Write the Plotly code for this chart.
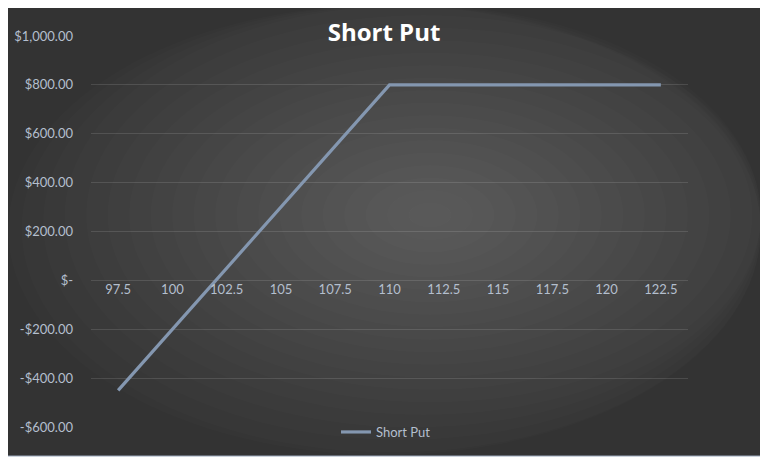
import plotly.graph_objects as go

# ---- data ----
strikes = ["97.5", "100", "102.5", "105", "107.5", "110", "112.5", "115", "117.5", "120", "122.5"]
payoff = [-450, -200, 50, 300, 550, 800, 800, 800, 800, 800, 800]
y_tick_values = [-600, -400, -200, 0, 200, 400, 600, 800, 1000]
y_tick_labels = ["-$600.00", "-$400.00", "-$200.00", "$-", "$200.00", "$400.00", "$600.00", "$800.00", "$1,000.00"]

W, H = 768, 460
OFF = 8  # page body margin
# plot area in screenshot pixels: x 91..688, y 36..427
ML = 91 - OFF
MT = 36 - OFF
MR = W - (688 - OFF)
MB = H - (427 - OFF)
pw, ph = W - ML - MR, H - MT - MB

def px_x(p):  # screenshot px -> paper
    return (p - OFF - ML) / pw

def px_y(p):
    return (H - MB - (p - OFF)) / ph

shapes = [
    dict(type="rect", xref="paper", yref="paper", layer="below",
         x0=px_x(7), x1=px_x(762), y0=px_y(456), y1=px_y(4),
         fillcolor="#333333", line=dict(color="#9aa7bb", width=1)),
]
# soft radial lightening toward the centre
cx, cy = 430, 215
n = 20
for i in range(n):
    f = 1 - i / n
    rx, ry = 430 * f, 250 * f
    x0 = max(8, cx - rx); x1 = min(761, cx + rx)
    y0 = max(5, cy - ry); y1 = min(455, cy + ry)
    shapes.append(dict(type="circle", xref="paper", yref="paper", layer="below",
                       x0=px_x(x0), x1=px_x(x1), y0=px_y(y1), y1=px_y(y0),
                       fillcolor="rgba(255,255,255,0.01)", line=dict(width=0)))

fig = go.Figure()
fig.add_trace(go.Scatter(
    x=strikes, y=payoff, mode="lines", name="Short Put",
    line=dict(color="#8497B0", width=3.2),
))

fig.update_layout(
    width=W, height=H, autosize=False,
    margin=dict(l=ML, r=MR, t=MT, b=MB, autoexpand=False),
    paper_bgcolor="white",
    plot_bgcolor="rgba(0,0,0,0)",
    shapes=shapes,
    font=dict(family="Lato, Carlito, Open Sans, sans-serif", color="#B4BFCE", size=13),
    title=dict(text="<b>Short Put</b>", x=px_x(384), xanchor="center", xref="paper",
               y=1 - (33 - OFF) / H, yanchor="middle", yref="container",
               font=dict(size=24, color="white", family="Open Sans, Lato, sans-serif")),
    showlegend=True,
    legend=dict(orientation="h", x=px_x(386), xanchor="center", xref="paper",
                y=px_y(432), yanchor="middle", bgcolor="rgba(0,0,0,0)",
                font=dict(size=13, color="#B4BFCE")),
    xaxis=dict(type="category", range=[-0.5, 10.5], anchor="free", position=0.375,
               showgrid=False, showline=False, zeroline=False, ticks="",
               tickangle=0, automargin=False,
               tickfont=dict(size=13, color="#B4BFCE")),
    yaxis=dict(range=[-600, 1000], tickvals=y_tick_values, ticktext=y_tick_labels,
               showgrid=True, gridcolor="rgba(255,255,255,0.12)", gridwidth=1,
               zeroline=False, showline=False, ticks="", ticklabelstandoff=17,
               automargin=False,
               tickfont=dict(size=13, color="#B4BFCE")),
)

fig.write_html("out.html")
